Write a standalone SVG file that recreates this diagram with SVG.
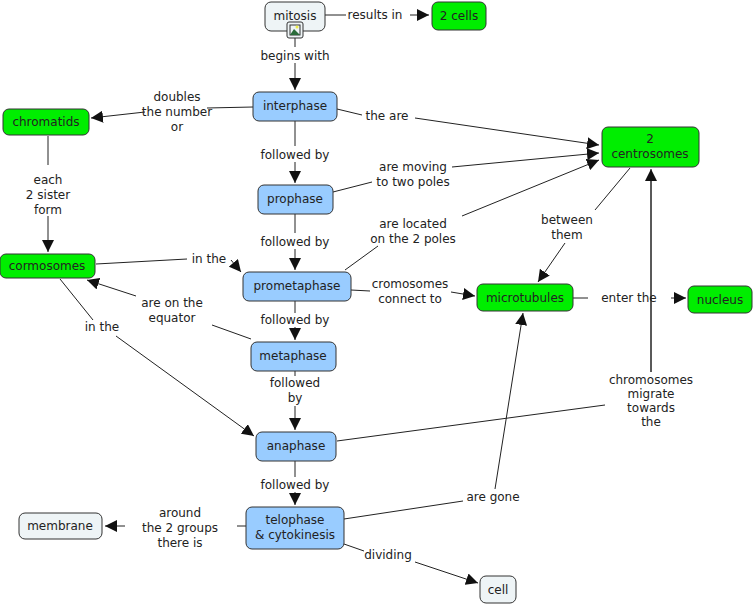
<svg xmlns="http://www.w3.org/2000/svg" width="753" height="605" viewBox="0 0 753 605">
<style>
text{font-family:"DejaVu Sans",sans-serif;font-size:12px;fill:#222;text-anchor:middle}
.n rect{stroke:#333;stroke-width:1}
.g rect{fill:#00ee00}.b rect{fill:#99ccff}.w rect{fill:#eef4f6}
#c line,#c polyline{stroke:#222;stroke-width:1;fill:none}
.a{marker-end:url(#ar)}
</style>
<defs><marker id="ar" viewBox="0 0 10 10" refX="10" refY="5" markerWidth="12" markerHeight="12" markerUnits="userSpaceOnUse" orient="auto"><path d="M0,0L10,5L0,10z" fill="#111"/></marker></defs>
<rect width="753" height="605" fill="#fff"/>
<g id="c">
<line x1="325" y1="15" x2="346" y2="15"/><line class="a" x1="410" y1="15" x2="429" y2="15"/>
<line x1="295" y1="38" x2="295" y2="47"/><line class="a" x1="295" y1="63" x2="295" y2="90"/>
<line x1="253" y1="107" x2="207" y2="108"/><line class="a" x1="145" y1="112" x2="91" y2="118"/>
<line x1="337" y1="109" x2="362" y2="115"/><line class="a" x1="415" y1="118" x2="599" y2="145"/>
<line x1="295" y1="121" x2="295" y2="146"/><line class="a" x1="295" y1="162" x2="295" y2="183"/>
<line x1="333" y1="192" x2="372" y2="182"/><line class="a" x1="452" y1="167" x2="599" y2="153"/>
<line x1="48" y1="136" x2="48" y2="165"/><line class="a" x1="48" y1="216" x2="48" y2="252"/>
<line x1="295" y1="214" x2="295" y2="233"/><line class="a" x1="295" y1="249" x2="295" y2="270"/>
<line x1="345" y1="270" x2="378" y2="246"/><line class="a" x1="462" y1="216" x2="599" y2="160"/>
<line x1="630" y1="168" x2="595" y2="210"/><line class="a" x1="565" y1="243" x2="538" y2="282"/>
<line x1="96" y1="264" x2="187" y2="259"/><line class="a" x1="231" y1="260" x2="241" y2="272"/>
<line x1="351" y1="290" x2="370" y2="291"/><line class="a" x1="451" y1="292" x2="475" y2="296"/>
<line x1="573" y1="298" x2="588" y2="298"/><line class="a" x1="671" y1="298" x2="686" y2="298"/>
<line x1="251" y1="339" x2="212" y2="325"/><line class="a" x1="136" y1="296" x2="87" y2="280"/>
<line x1="60" y1="279" x2="93" y2="320"/><line class="a" x1="116" y1="336" x2="254" y2="436"/>
<line x1="295" y1="301" x2="295" y2="313"/><line class="a" x1="295" y1="327" x2="295" y2="340"/>
<line x1="295" y1="371" x2="295" y2="376"/><line class="a" x1="295" y1="406" x2="295" y2="430"/>
<line x1="337" y1="441" x2="605" y2="405"/><line x1="651" y1="372" x2="651" y2="171"/>
<polyline class="a" points="651,372 651,169"/>
<line x1="295" y1="461" x2="295" y2="477"/><line class="a" x1="295" y1="492" x2="295" y2="505"/>
<line x1="344" y1="519" x2="463" y2="501"/><line class="a" x1="495" y1="489" x2="523" y2="313"/>
<line x1="246" y1="526" x2="237" y2="526"/><line class="a" x1="125" y1="526" x2="105" y2="526"/>
<line x1="344" y1="544" x2="364" y2="551"/><line class="a" x1="415" y1="562" x2="478" y2="583"/>
</g>
<g id="mitosis" class="n w"><rect x="265" y="2" width="60" height="29" rx="6"/><text x="295" y="20">mitosis</text>
<rect x="287" y="22" width="16" height="16" rx="2" fill="#cfe3f5" stroke="#4a7fb5"/><rect x="290" y="25" width="10" height="10" fill="#7ab"/><path d="M290,35L294,29L300,35z" fill="#2a6b3a"/><circle cx="297" cy="27" r="1.5" fill="#ee4"/></g>
<g id="cells2" class="n g"><rect x="432" y="2" width="54" height="28" rx="6"/><text x="459" y="20">2 cells</text></g>
<g id="interphase" class="n b"><rect x="253" y="92" width="84" height="29" rx="6"/><text x="295" y="110">interphase</text></g>
<g id="chromatids" class="n g"><rect x="3" y="109" width="86" height="26" rx="6"/><text x="46" y="126">chromatids</text></g>
<g id="centrosomes" class="n g"><rect x="602" y="127" width="97" height="40" rx="6"/><text x="650" y="143">2</text><text x="650" y="158">centrosomes</text></g>
<g id="prophase" class="n b"><rect x="258" y="185" width="75" height="29" rx="6"/><text x="295" y="203">prophase</text></g>
<g id="cormosomes" class="n g"><rect x="0" y="254" width="95" height="24" rx="6"/><text x="47" y="270">cormosomes</text></g>
<g id="prometaphase" class="n b"><rect x="243" y="272" width="108" height="29" rx="6"/><text x="297" y="290">prometaphase</text></g>
<g id="microtubules" class="n g"><rect x="477" y="284" width="96" height="27" rx="6"/><text x="525" y="302">microtubules</text></g>
<g id="nucleus" class="n g"><rect x="688" y="286" width="64" height="27" rx="6"/><text x="720" y="304">nucleus</text></g>
<g id="metaphase" class="n b"><rect x="251" y="342" width="85" height="29" rx="6"/><text x="293" y="360">metaphase</text></g>
<g id="anaphase" class="n b"><rect x="256" y="432" width="80" height="29" rx="6"/><text x="296" y="450">anaphase</text></g>
<g id="telophase" class="n b"><rect x="246" y="507" width="98" height="42" rx="6"/><text x="295" y="524">telophase</text><text x="295" y="539">&amp; cytokinesis</text></g>
<g id="membrane" class="n w"><rect x="19" y="513" width="83" height="26" rx="6"/><text x="60" y="530">membrane</text></g>
<g id="cell" class="n w"><rect x="480" y="576" width="36" height="27" rx="6"/><text x="498" y="594">cell</text></g>
<g id="labels">
<text x="375" y="19">results in</text>
<text x="295" y="60">begins with</text>
<text x="177" y="101">doubles</text><text x="177" y="116">the number</text><text x="177" y="131">or</text>
<text x="387" y="120">the are</text>
<text x="295" y="159">followed by</text>
<text x="413" y="171">are moving</text><text x="413" y="186">to two poles</text>
<text x="48" y="184">each</text><text x="48" y="199">2 sister</text><text x="48" y="214">form</text>
<text x="295" y="246">followed by</text>
<text x="413" y="228">are located</text><text x="413" y="243">on the 2 poles</text>
<text x="567" y="224">between</text><text x="567" y="239">them</text>
<text x="209" y="263">in the</text>
<text x="410" y="288">cromosomes</text><text x="410" y="303">connect to</text>
<text x="629" y="302">enter the</text>
<text x="172" y="307">are on the</text><text x="172" y="322">equator</text>
<text x="102" y="331">in the</text>
<text x="295" y="324">followed by</text>
<text x="295" y="387">followed</text><text x="295" y="402">by</text>
<text x="651" y="384">chromosomes</text><text x="651" y="398">migrate</text><text x="651" y="412">towards</text><text x="651" y="426">the</text>
<text x="295" y="489">followed by</text>
<text x="493" y="501">are gone</text>
<text x="180" y="517">around</text><text x="180" y="532">the 2 groups</text><text x="180" y="547">there is</text>
<text x="388" y="559">dividing</text>
</g>
</svg>
